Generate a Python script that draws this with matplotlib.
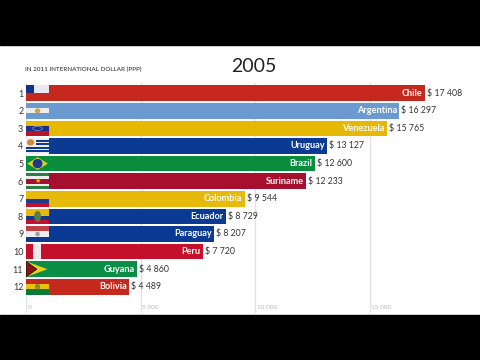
import matplotlib
matplotlib.use('Agg')
import matplotlib.pyplot as plt
from matplotlib.patches import Rectangle, Polygon, Ellipse

plt.rcParams['font.family'] = ['Lato', 'DejaVu Sans']

countries = ['Chile', 'Argentina', 'Venezuela', 'Uruguay', 'Brazil', 'Suriname',
             'Colombia', 'Ecuador', 'Paraguay', 'Peru', 'Guyana', 'Bolivia']
values = [17408, 16297, 15765, 13127, 12600, 12233, 9544, 8729, 8207, 7720, 4860, 4489]
ranks = [1, 2, 3, 4, 5, 6, 7, 8, 9, 10, 11, 12]
colors = ['#C5281C', '#6A9AD0', '#E6B800', '#0B3A93', '#0A8E3E', '#A60F2D',
          '#E6B90A', '#0B3A93', '#0B3A93', '#C4102B', '#0A8E45', '#C5281C']
x_ticks = [0, 5000, 10000, 15000]
x_labels = ['0', '5 000', '10 000', '15 000']
year = '2005'
subtitle = 'IN 2011 INTERNATIONAL DOLLAR (PPP)'

# horizontal stripes of each flag, top to bottom
stripes = {
    'Chile': ['#E8E8F0', '#C5281C'],
    'Argentina': ['#6A9AD0', '#EDEDED', '#6A9AD0'],
    'Venezuela': ['#E6B800', '#1B2F8C', '#B81428'],
    'Uruguay': ['#EDEDF2', '#0B3A93', '#EDEDF2', '#0B3A93', '#EDEDF2', '#0B3A93', '#EDEDF2', '#0B3A93', '#EDEDF2'],
    'Brazil': ['#0A8E3E'],
    'Suriname': ['#2E7D46', '#EDEDED', '#A60F2D', '#A60F2D', '#EDEDED', '#2E7D46'],
    'Colombia': ['#E6B90A', '#E6B90A', '#1B3A93', '#C4102B'],
    'Ecuador': ['#E6B90A', '#E6B90A', '#0B3A93', '#C4102B'],
    'Paraguay': ['#C04048', '#EDEDED', '#0B3A93'],
    'Peru': ['#C4102B'],
    'Guyana': ['#0A8E45'],
    'Bolivia': ['#C5281C', '#E6C40A', '#0A7A35'],
}

fig = plt.figure(figsize=(4.8, 3.6), dpi=100, facecolor='white')
fig.patches.append(Rectangle((0, 315 / 360), 1, 45 / 360, transform=fig.transFigure, color='black', zorder=10))
fig.patches.append(Rectangle((0, 0), 1, 45 / 360, transform=fig.transFigure, color='black', zorder=10))

# axes box matches the plot area in pixels
ax = fig.add_axes([26 / 480, 47 / 360, 454 / 480, 230 / 360])
ax.set_xlim(0, 454 / 0.0229)
ax.set_ylim(13.49, 0.42)
for s in ax.spines.values():
    s.set_visible(False)
ax.set_xticks([])
ax.set_yticks(ranks)
ax.set_yticklabels(ranks, fontsize=6.4, color='#333333')
ax.tick_params(axis='y', length=0, pad=2)

for t in x_ticks:
    ax.axvline(t, color='#E2E2E2', lw=1, zorder=0)
for t, lab in zip(x_ticks, x_labels):
    ax.text(t + 70, 13.18, lab, fontsize=4.6, color='#BBBBBB', va='center', ha='left')

bar_h = 0.89
ax.barh(ranks, values, height=bar_h, color=colors, zorder=2)

flag_w = 1010
for name, r in zip(countries, ranks):
    top = r - bar_h / 2
    st = stripes[name]
    h = bar_h / len(st)
    for i, c in enumerate(st):
        ax.add_patch(Rectangle((0, top + i * h), flag_w, h, color=c, lw=0, zorder=3))
    if name == 'Chile':
        ax.add_patch(Rectangle((0, top), flag_w / 3, bar_h / 2, color='#12308C', lw=0, zorder=4))
    if name == 'Argentina':
        ax.add_patch(Ellipse((flag_w / 2, r), 180, 0.2, color='#C8A84A', zorder=4))
    if name == 'Venezuela':
        ax.add_patch(Ellipse((flag_w / 2, r), 420, 0.22, fill=False, ec='#AAB0D0', lw=0.4, zorder=4))
    if name == 'Uruguay':
        ax.add_patch(Rectangle((0, top), flag_w * 0.42, bar_h * 5 / 9, color='#EDEDF2', lw=0, zorder=4))
        ax.add_patch(Ellipse((flag_w * 0.2, top + bar_h * 0.27), 260, 0.28, color='#D08A3A', zorder=5))
    if name == 'Brazil':
        ax.add_patch(Polygon([(60, r), (flag_w / 2, top + 0.08), (flag_w - 60, r), (flag_w / 2, top + bar_h - 0.08)],
                             color='#E8D020', lw=0, zorder=4))
        ax.add_patch(Ellipse((flag_w / 2, r), 370, 0.46, color='#1B3A8C', zorder=5))
    if name == 'Suriname':
        ax.text(flag_w / 2, r, '\u2605', fontsize=5, color='#E8C020', ha='center', va='center',
                family='DejaVu Sans', zorder=5)
    if name == 'Ecuador':
        ax.add_patch(Ellipse((flag_w / 2, r), 230, 0.55, color='#5A7A50', zorder=5))
    if name == 'Paraguay':
        ax.add_patch(Ellipse((flag_w / 2, r), 130, 0.2, color='#9AA0A8', zorder=4))
    if name == 'Peru':
        ax.add_patch(Rectangle((flag_w * 0.31, top), flag_w * 0.36, bar_h, color='#F0E8E8', lw=0, zorder=4))
    if name == 'Guyana':
        ax.add_patch(Polygon([(0, top), (flag_w * 0.93, r), (0, top + bar_h)], color='#E8D020', lw=0, zorder=4))
        ax.add_patch(Polygon([(0, top), (flag_w * 0.47, r), (0, top + bar_h)], color='#8A1414', ec='#111111', lw=0.5, zorder=5))
    if name == 'Bolivia':
        ax.add_patch(Ellipse((flag_w / 2, r), 170, 0.25, color='#8A8A30', zorder=4))

for name, v, r in zip(countries, values, ranks):
    ax.text(v - 90, r, name, fontsize=6.6, fontweight='bold', color='white', ha='right', va='center', zorder=6)
    s = '$ {:,}'.format(v).replace(',', ' ')
    ax.text(v + 90, r, s, fontsize=6.3, color='#333333', ha='left', va='center', zorder=6)

fig.text(254 / 480, 1 - 66 / 360, year, fontsize=14, color='#222222', ha='center', va='center')
fig.text(25 / 480, 1 - 69 / 360, subtitle, fontsize=4.5, color='#222222', ha='left', va='center')

fig.savefig('out.png', dpi=100)
